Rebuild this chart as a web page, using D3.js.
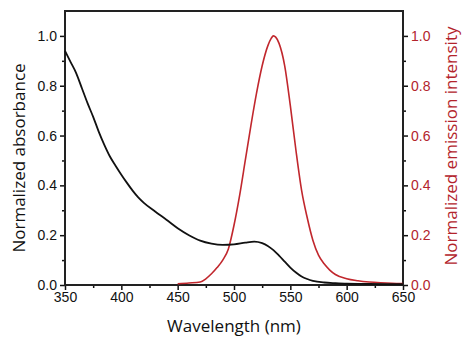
<!DOCTYPE html>
<html><head><meta charset="utf-8">
<script src="https://cdn.jsdelivr.net/npm/d3@7"></script>
<style>body{margin:0;background:#fff}svg{display:block;font-family:"Open Sans",sans-serif}</style>
</head><body><svg id="c" width="474" height="341"></svg>
<script>
const absWavelength = [350,355,360,365,370,375,380,385,390,395,400,405,410,415,420,430,440,450,460,470,480,490,500,510,518,525,530,535,540,545,550,555,560,565,570,580,590,600,620,650];
const absValues = [0.94,0.895,0.85,0.79,0.73,0.675,0.615,0.562,0.515,0.478,0.443,0.41,0.379,0.352,0.33,0.295,0.262,0.228,0.2,0.178,0.166,0.161,0.163,0.17,0.174,0.168,0.157,0.14,0.118,0.094,0.07,0.05,0.034,0.024,0.017,0.01,0.007,0.005,0.004,0.003];
const emWavelength = [450,460,470,475,480,485,490,495,500,505,510,515,520,525,530,533,535,537,540,545,550,555,560,565,570,575,580,585,590,600,610,620,630,640,650];
const emValues = [0.005,0.008,0.012,0.025,0.045,0.07,0.1,0.145,0.24,0.36,0.5,0.64,0.77,0.88,0.96,0.99,1.0,0.995,0.97,0.88,0.72,0.54,0.38,0.27,0.18,0.12,0.085,0.06,0.042,0.025,0.017,0.012,0.009,0.007,0.006];
const xTicks = [350,400,450,500,550,600,650];
const yTicks = [0,0.2,0.4,0.6,0.8,1.0];
const xLabel = "Wavelength (nm)";
const yLeftLabel = "Normalized absorbance";
const yRightLabel = "Normalized emission intensity";

const L=65,R=403,T=11,B=285;
const RED="#c1272d", REDTXT="#b3242c";
const svg=d3.select("#c");
const x=d3.scaleLinear().domain([350,650]).range([L,R]);
const y=d3.scaleLinear().domain([0,1.1]).range([B,T]);
const y2=d3.scaleLinear().domain([0,1.1]).range([B,T]);

const minorX=d3.range(375,650,50);
const minorY=d3.range(0.1,1.1,0.2).map(v=>+v.toFixed(1));

function style(g,color){
  g.select(".domain").remove();
  g.selectAll(".tick line").attr("stroke","#111").attr("stroke-width",1.5);
  g.selectAll(".tick text").attr("fill",color).style("font-size","14px");
}
svg.append("g").attr("transform",`translate(0,${B})`)
  .call(d3.axisBottom(x).tickValues(xTicks).tickFormat(d3.format("d")).tickSize(5).tickPadding(2))
  .call(g=>style(g,"#111"));
svg.append("g").attr("transform",`translate(0,${B})`)
  .call(d3.axisBottom(x).tickValues(minorX).tickFormat("").tickSize(3))
  .call(g=>style(g,"#111"));
svg.append("g").attr("transform",`translate(${L},0)`)
  .call(d3.axisLeft(y).tickValues(yTicks).tickFormat(d3.format(".1f")).tickSize(5).tickPadding(3))
  .call(g=>style(g,"#111"));
svg.append("g").attr("transform",`translate(${L},0)`)
  .call(d3.axisLeft(y).tickValues(minorY).tickFormat("").tickSize(3))
  .call(g=>style(g,"#111"));
svg.append("g").attr("transform",`translate(${R},0)`)
  .call(d3.axisRight(y2).tickValues(yTicks).tickFormat(d3.format(".1f")).tickSize(5).tickPadding(3))
  .call(g=>style(g,REDTXT));
svg.append("g").attr("transform",`translate(${R},0)`)
  .call(d3.axisRight(y2).tickValues(minorY).tickFormat("").tickSize(3))
  .call(g=>style(g,REDTXT));

svg.append("rect").attr("x",L).attr("y",T).attr("width",R-L).attr("height",B-T)
  .attr("fill","none").attr("stroke","#222").attr("stroke-width",2);

const line=(xs,ys,sc)=>d3.line().curve(d3.curveMonotoneX).x((d,i)=>x(xs[i])).y((d,i)=>sc(ys[i]))(xs);
svg.append("path").attr("d",line(emWavelength,emValues,y2)).attr("fill","none")
  .attr("stroke",RED).attr("stroke-width",1.6).attr("stroke-linejoin","round");
svg.append("path").attr("d",line(absWavelength,absValues,y)).attr("fill","none")
  .attr("stroke","#111").attr("stroke-width",1.8).attr("stroke-linejoin","round");

svg.append("text").attr("x",(L+R)/2).attr("y",332).attr("text-anchor","middle")
  .style("font-size","17px").attr("fill","#111").text(xLabel);
svg.append("text").attr("transform","translate(25,158) rotate(-90)").attr("text-anchor","middle")
  .style("font-size","17px").attr("fill","#111").text(yLeftLabel);
svg.append("text").attr("transform","translate(457,146) rotate(-90)").attr("text-anchor","middle")
  .style("font-size","17px").attr("fill",REDTXT).text(yRightLabel);
</script></body></html>
